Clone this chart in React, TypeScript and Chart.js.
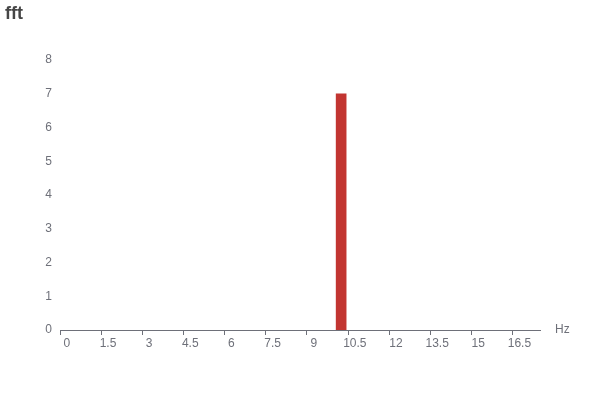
import React, { useEffect, useRef } from "react";
import { Chart, registerables } from "chart.js";

Chart.register(...registerables);

const categories: string[] = [
  "0", "0.5", "1", "1.5", "2", "2.5", "3", "3.5", "4", "4.5", "5", "5.5",
  "6", "6.5", "7", "7.5", "8", "8.5", "9", "9.5", "10", "10.5", "11", "11.5",
  "12", "12.5", "13", "13.5", "14", "14.5", "15", "15.5", "16", "16.5", "17",
];
const amplitudes: number[] = [
  0, 0, 0, 0, 0, 0, 0, 0, 0, 0, 0, 0,
  0, 0, 0, 0, 0, 0, 0, 0, 7, 0, 0, 0,
  0, 0, 0, 0, 0, 0, 0, 0, 0, 0, 0,
];
const titleText = "fft";
const axisName = "Hz";

const FONT = "Liberation Sans, Arial, sans-serif";
const AXIS_COLOR = "#6E7079";

const overlayPlugin = {
  id: "overlay",
  afterDraw(chart: any) {
    const ctx = chart.ctx;
    const area = chart.chartArea;
    ctx.save();
    ctx.fillStyle = "#464646";
    ctx.font = `bold 18px ${FONT}`;
    ctx.textAlign = "left";
    ctx.textBaseline = "top";
    ctx.fillText(titleText, 5, 5);
    ctx.fillStyle = AXIS_COLOR;
    ctx.font = `12px ${FONT}`;
    ctx.textAlign = "left";
    ctx.textBaseline = "middle";
    ctx.fillText(axisName, area.right + 15, area.bottom);
    ctx.restore();
  },
};

export default function App() {
  const ref = useRef<HTMLCanvasElement | null>(null);
  useEffect(() => {
    if (!ref.current) return;
    const chart = new Chart(ref.current, {
      type: "bar",
      data: {
        labels: categories,
        datasets: [
          {
            label: "fft",
            data: amplitudes,
            backgroundColor: (c: any) =>
              c.raw === 0 ? "rgba(0,0,0,0)" : "#c23531",
            borderWidth: 0,
            barThickness: 10,
          },
        ],
      },
      options: {
        animation: false,
        responsive: false,
        layout: { padding: { left: 0, right: 60, top: 60, bottom: 40 } },
        plugins: {
          legend: { display: false },
          title: { display: false },
          tooltip: { enabled: false },
        },
        scales: {
          x: {
            type: "category",
            offset: true,
            border: { display: true, color: AXIS_COLOR, width: 1 },
            grid: {
              display: true,
              offset: true,
              drawOnChartArea: false,
              drawTicks: true,
              tickLength: 5,
              tickColor: (c: any) =>
                c.index % 3 === 0 || c.index === categories.length ? AXIS_COLOR : "rgba(0,0,0,0)",
            },
            ticks: {
              autoSkip: false,
              maxRotation: 0,
              minRotation: 0,
              padding: 1,
              color: AXIS_COLOR,
              font: { family: FONT, size: 12 },
              callback: (_v: any, i: number) => (i % 3 === 0 ? categories[i] : ""),
            },
            afterFit: (s: any) => {
              s.height = 30;
            },
          },
          y: {
            min: 0,
            max: 8,
            border: { display: false },
            grid: { display: false, drawTicks: false },
            ticks: {
              stepSize: 1,
              padding: 8,
              color: AXIS_COLOR,
              font: { family: FONT, size: 12 },
            },
            afterFit: (s: any) => {
              s.width = 60;
            },
          },
        },
      },
      plugins: [overlayPlugin],
    });
    return () => chart.destroy();
  }, []);
  return (
    <div style={{ position: "fixed", left: 0, top: 0, width: 600, height: 400, background: "#fff" }}>
      <canvas ref={ref} width={600} height={400} style={{ width: 600, height: 400 }} />
    </div>
  );
}
